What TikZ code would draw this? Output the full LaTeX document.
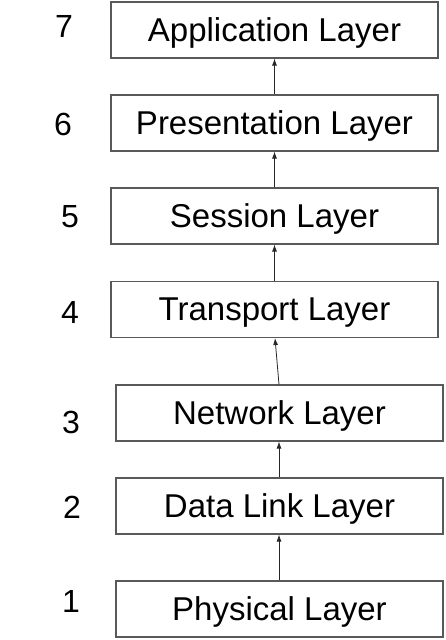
\documentclass[tikz,border=0pt]{standalone}
\usepackage{fontspec}
\setmainfont{Liberation Sans}
\usetikzlibrary{arrows.meta}
\begin{document}
\begin{tikzpicture}[x=1pt,y=-1pt,
  layer/.style={draw=black!65, line width=1.1pt, minimum width=327pt, minimum height=56pt, inner sep=0pt, text depth=0pt, font=\fontsize{33}{38}\selectfont},
  num/.style={font=\fontsize{32}{38}\selectfont, inner sep=0pt},
  conn/.style={draw=black!85, line width=0.8pt, -{Latex[length=7pt,width=5pt]}}]
\useasboundingbox (0,0) rectangle (446,640);
\node[layer] (l7) at (274.5,30) {Application Layer};
\node[layer] (l6) at (274.5,123) {Presentation Layer};
\node[layer] (l5) at (274.5,216) {Session Layer};
\node[layer] (l4) at (274.5,309.5) {Transport Layer};
\node[layer] (l3) at (279.5,413) {Network Layer};
\node[layer] (l2) at (279.5,506) {Data Link Layer};
\node[layer] (l1) at (279.5,609) {Physical Layer};
\node[num] (n7) at (64,26) {7};
\node[num] (n6) at (63,124) {6};
\node[num] (n5) at (70,217) {5};
\node[num] (n4) at (70,312) {4};
\node[num] (n3) at (71,422) {3};
\node[num] (n2) at (72,507) {2};
\node[num] (n1) at (71,601) {1};
\draw[conn] (l6.north -| 274.5,0) -- (l7.south -| 274.5,0);
\draw[conn] (l5.north -| 274.5,0) -- (l6.south -| 274.5,0);
\draw[conn] (l4.north -| 274.5,0) -- (l5.south -| 274.5,0);
\draw[conn] (l3.north -| 279,0) -- (l4.south -| 275,0);
\draw[conn] (l2.north -| 279,0) -- (l3.south -| 279,0);
\draw[conn] (l1.north -| 279,0) -- (l2.south -| 279,0);
\end{tikzpicture}
\end{document}
